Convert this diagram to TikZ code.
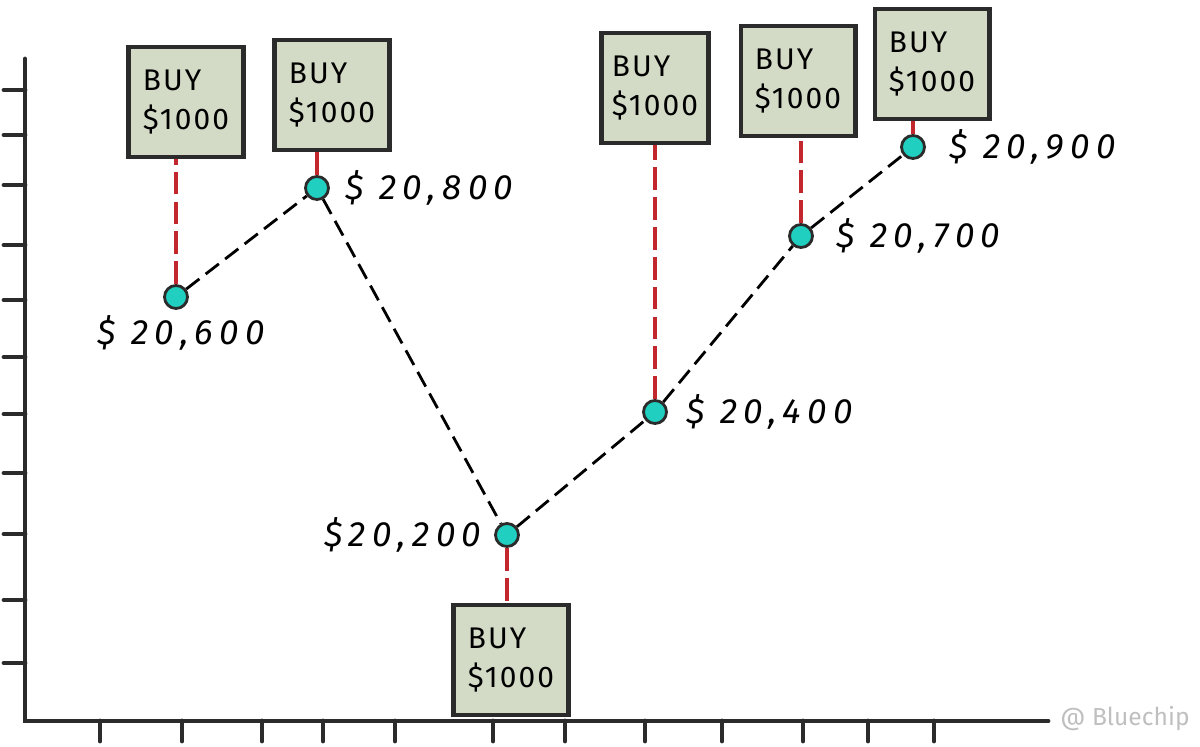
\documentclass[tikz,border=0pt]{standalone}
\usepackage{fontspec}
\setmainfont{Fira Sans}
\usetikzlibrary{positioning}

\definecolor{boxgreen}{HTML}{D3DBC6}
\definecolor{tealdot}{HTML}{20CFC0}
\definecolor{stemred}{HTML}{C1272D}
\definecolor{axisgray}{HTML}{2B2B2B}

\tikzset{
  buybox/.style={draw=axisgray, line width=2.3pt, fill=boxgreen, minimum width=2.3cm, minimum height=2.2cm, align=left, font=\fontsize{17}{22}\selectfont\addfontfeature{LetterSpace=7}},
  dot/.style={circle, draw=axisgray, line width=1.6pt, fill=tealdot, minimum size=0.46cm, inner sep=0pt},
  pricelabel/.style={font=\fontsize{20}{24}\selectfont\itshape\addfontfeature{LetterSpace=18}, inner sep=0pt},
  trend/.style={line width=1.6pt, dash pattern=on 9.5pt off 4.5pt},
  stem/.style={stemred, line width=1.8pt, dash pattern=on 13pt off 4pt},
  axisline/.style={axisgray, line width=2.8pt, line cap=round}
}

\begin{document}
\begin{tikzpicture}[x=0.02cm,y=-0.02cm]
            \useasboundingbox (0,0) rectangle (1200,747);
            % axes with ticks
            \draw[axisline] (25,59) -- (25,721) -- (1048,721);
            \foreach \ty in {90,135,185,245,300,357,414,473,534,600,663}
              \draw[axisline] (4,\ty) -- (25,\ty);
            \foreach \tx in {100,182,262,323,395,493,565,645,722,803,868,934}
              \draw[axisline] (\tx,721) -- (\tx,741);
            % price points
            \node[dot] (p1) at (176,297) {};
            \node[dot] (p2) at (317,188) {};
            \node[dot] (p3) at (507,535) {};
            \node[dot] (p4) at (655,412) {};
            \node[dot] (p5) at (801,236) {};
            \node[dot] (p6) at (913,147) {};
            \node[pricelabel, below=0.1cm of p1, xshift=0.1cm] (l1) {\$ 20,600};
            \node[pricelabel, right=0.3cm of p2] (l2) {\$ 20,800};
            \node[pricelabel, left=0.25cm of p3] (l3) {\$20,200};
            \node[pricelabel, right=0.36cm of p4] (l4) {\$ 20,400};
            \node[pricelabel, right=0.44cm of p5] (l5) {\$ 20,700};
            \node[pricelabel, right=0.46cm of p6] (l6) {\$ 20,900};
            % buy orders
            \node[buybox] (b1) at (186,102) {BUY\\\$1000};
            \node[buybox] (b2) at (332,95) {BUY\\\$1000};
            \node[buybox] (b3) at (511,660) {BUY\\\$1000};
            \node[buybox, minimum width=2.14cm] (b4) at (655,88) {BUY\\\$1000};
            \node[buybox] (b5) at (798,81) {BUY\\\$1000};
            \node[buybox] (b6) at (932,64) {BUY\\\$1000};
            \draw[stem] (p1) -- (p1 |- b1.south);
            \draw[stem] (p2) -- (p2 |- b2.south);
            \draw[stem] (p3) -- (p3 |- b3.north);
            \draw[stem] (p4) -- (p4 |- b4.south);
            \draw[stem] (p5) -- (p5 |- b5.south);
            \draw[stem] (p6) -- (p6 |- b6.south);
            % dashed price path
            \draw[trend] (p1) -- (p2) -- (p3) -- (p4) -- (p5) -- (p6);
            \node[text=black!25, font=\fontsize{14}{16}\selectfont] (mark) at (1125,719) {@ Bluechip};
        \end{tikzpicture}
\end{document}
